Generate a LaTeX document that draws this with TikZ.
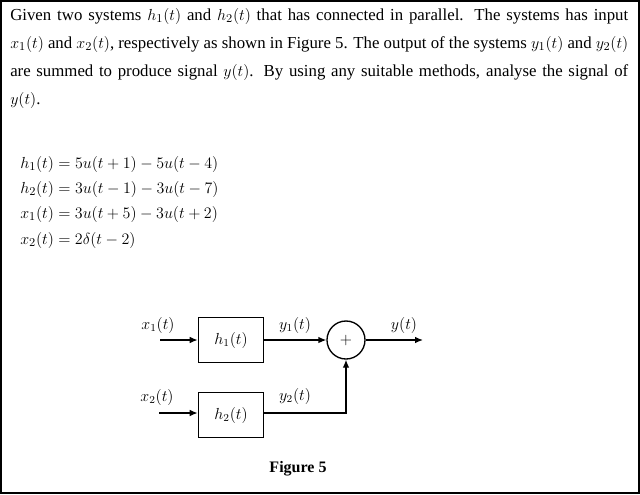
\documentclass[tikz,border=0pt]{standalone}
\usepackage{fontspec}
\setmainfont{Liberation Serif}
\usetikzlibrary{arrows.meta}
\begin{document}
\begin{tikzpicture}[x=0.75pt,y=-0.75pt,
  blk/.style={draw,line width=1pt,minimum width=49pt,minimum height=34pt,inner sep=0pt,font=\fontsize{11.5}{13}\selectfont},
  sig/.style={font=\fontsize{11.5}{13}\selectfont},
  eq/.style={anchor=west,inner sep=0pt,font=\fontsize{13.2}{14}\selectfont},
  conn/.style={line width=1pt,-{Latex[length=6pt,width=5pt]}}]
\useasboundingbox (0,0) rectangle (640,494);
\draw[line width=1pt] (1,1) rectangle (639,493);
\node[anchor=north west,text width=463.5pt,align=justify,inner sep=0pt,font=\fontsize{12.6}{21}\selectfont] (txt) at (10,8)
 {Given two systems $h_1(t)$ and $h_2(t)$ that has connected in parallel. The systems has input\linebreak $x_1(t)$ and $x_2(t)$, respectively as shown in Figure 5. The output of the systems $y_1(t)$ and $y_2(t)$\linebreak are summed to produce signal $y(t)$. By using any suitable methods, analyse the signal of\linebreak $y(t)$.};
\node[eq] (e1) at (20,164) {$h_1(t)=5u(t+1)-5u(t-4)$};
\node[eq] (e2) at (20,189) {$h_2(t)=3u(t-1)-3u(t-7)$};
\node[eq] (e3) at (20,214) {$x_1(t)=3u(t+5)-3u(t+2)$};
\node[eq] (e4) at (20,240) {$x_2(t)=2\delta(t-2)$};
\node[blk] (h1) at (231,340) {$h_1(t)$};
\node[blk] (h2) at (231,415) {$h_2(t)$};
\node[draw,circle,line width=1pt,minimum size=28.5pt,inner sep=0pt,font=\fontsize{11.5}{13}\selectfont] (s) at (346,340) {$+$};
\coordinate (x1) at (160,340);
\coordinate (x2) at (159,413);
\coordinate (yo) at (423,340);
\coordinate (c2) at (346,413);
\draw[conn] (x1) -- (h1.west);
\draw[conn] (x2) -- (h2.west |- x2);
\draw[conn] (h1.east) -- (s.west);
\draw[conn] (h2.east |- c2) -- (c2) -- (s.south);
\draw[conn] (s.east) -- (yo);
\node[sig] (lx1) at (158,325) {$x_1(t)$};
\node[sig] (lx2) at (157,397) {$x_2(t)$};
\node[sig] (ly1) at (295,325) {$y_1(t)$};
\node[sig] (ly2) at (295,396) {$y_2(t)$};
\node[sig] (ly) at (404,325) {$y(t)$};
\node[font=\bfseries\fontsize{12}{14}\selectfont] (fig) at (298,469) {Figure 5};
\end{tikzpicture}
\end{document}
